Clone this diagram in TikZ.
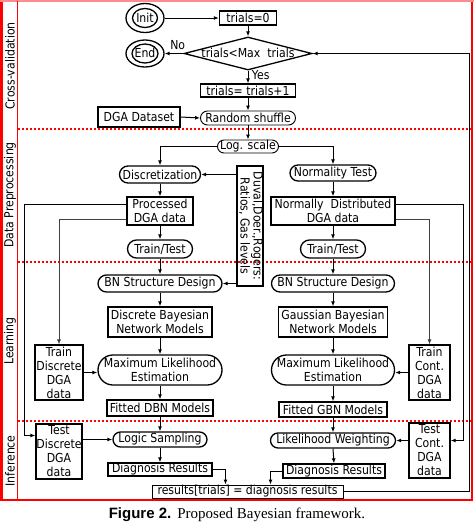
\documentclass[tikz,border=0pt]{standalone}
\usepackage{fontspec}
\newfontfamily\dv[FakeStretch=0.88]{DejaVu Sans}
\newfontfamily\capsans{Liberation Sans}
\newfontfamily\capserif{Liberation Serif}
\usetikzlibrary{arrows.meta,shapes.geometric,calc}
\newcommand{\nf}{\dv\fontsize{12.4}{14}\selectfont}
\newcommand{\lanef}{\dv\fontsize{12.4}{14}\selectfont}
\newcommand{\ctr}[1]{\smash{\makebox[0pt]{\raisebox{-0.36em}{#1}}}}
\tikzset{
  box/.style={draw, line width=1.3pt, inner sep=0pt, align=center, font=\nf},
  pill/.style={box, rounded corners=#1},
  arr/.style={-{Latex[length=5pt,width=4pt]}, line width=1pt},
  thinarr/.style={-{Latex[length=5pt,width=4pt]}, line width=0.6pt, black!75},
  lane/.style={rotate=90, font=\lanef},
  ring/.style={ellipse, draw, line width=1.3pt, inner sep=0pt, font=\nf},
  sepline/.style={red, line width=1.4pt, dash pattern=on 2pt off 2pt},
}
\begin{document}
\begin{tikzpicture}[x=1pt,y=-1pt]
\useasboundingbox (0,0) rectangle (474,523);
% frame
\draw[red, line width=2.5pt] (1.25,1) -- (1.25,500) -- (472,500) -- (472,1);
\draw[red!45, line width=2pt] (0,1) -- (474,1);
\draw[red, line width=0.9pt] (17.5,1) -- (17.5,500);
\draw[sepline] (17.5,129) -- (472,129);
\draw[sepline] (17.5,262) -- (472,262);
\draw[sepline] (17.5,421) -- (472,421);
% lanes
\node[lane] (l1) at (10,66) {Cross-validation};
\node[lane] (l2) at (10,195) {Data Preprocessing};
\node[lane] (l3) at (10,341) {Learning};
\node[lane] (l4) at (10,461) {Inference};
% cross-validation
\node[ring, minimum width=38pt, minimum height=29pt] (initO) at (145,18) {};
\node[ring, minimum width=25pt, minimum height=19pt] (init) at (145,18) {\ctr{Init}};
\node[ring, minimum width=38pt, minimum height=27pt] (endO) at (145,53.5) {};
\node[ring, minimum width=26pt, minimum height=19pt] (endI) at (145,53.5) {\ctr{End}};
\node[box, minimum width=57pt, minimum height=14pt] (t0) at (248,18) {trials=0};
\node[diamond, draw, line width=1.3pt, inner sep=0pt, minimum width=128pt, minimum height=33pt, font=\nf] (dec) at (248,53.5) {\ctr{trials<Max\ \ trials}};
\node[box, minimum width=95pt, minimum height=13pt] (inc) at (248,90.5) {trials= trials+1};
\node[box, minimum width=82pt, minimum height=20pt] (ds) at (139,117) {DGA Dataset};
\node[pill=7pt, line width=0.9pt, minimum width=95pt, minimum height=14pt] (rs) at (248,118) {Random shuffle};
% preprocessing
\node[pill=6.5pt, line width=0.9pt, minimum width=61pt, minimum height=13pt] (log) at (248,146.5) {Log. scale};
\node[pill=8.5pt, minimum width=81pt, minimum height=17pt] (disc) at (160,174.5) {Discretization};
\node[pill=8pt, minimum width=86pt, minimum height=16pt] (norm) at (333,173) {Normality Test};
\node[box, minimum width=26pt, minimum height=120pt] (duval) at (250,226)
  {\rotatebox{-90}{\fontsize{12.4}{12}\selectfont\begin{tabular}{@{}c@{}}Duval,Doer.,Rogers:\\Ratios, Gas levels\end{tabular}}};
\node[box, minimum width=66pt, minimum height=28pt] (proc) at (160,211) {Processed\\DGA data};
\node[box, minimum width=124pt, minimum height=28pt] (nd) at (333,211) {Normally\ \ Distributed\\DGA data};
\node[pill=9pt, minimum width=65pt, minimum height=18pt] (tt1) at (160,249) {Train/Test};
\node[pill=9pt, minimum width=65pt, minimum height=18pt] (tt2) at (333,249) {Train/Test};
% learning
\node[pill=8.5pt, minimum width=124pt, minimum height=17pt] (bn1) at (160,283.5) {BN Structure Design};
\node[pill=8.5pt, minimum width=123pt, minimum height=17pt] (bn2) at (333,283.5) {BN Structure Design};
\node[box, minimum width=104pt, minimum height=30pt] (dbn) at (160,322) {Discrete Bayesian\\Network Models};
\node[box, minimum width=109pt, minimum height=30pt] (gbn) at (333,322) {Gaussian Bayesian\\Network Models};
\node[pill=15pt, minimum width=124pt, minimum height=30pt] (mle1) at (160,370) {Maximum Likelihood\\Estimation};
\node[pill=15pt, minimum width=123pt, minimum height=30pt] (mle2) at (333,370) {Maximum Likelihood\\Estimation};
\node[box, minimum width=48pt, minimum height=55pt] (trd) at (59,372.5) {Train\\Discrete\\DGA\\data};
\node[box, minimum width=41pt, minimum height=55pt] (trc) at (429.5,372.5) {Train\\Cont.\\DGA\\data};
\node[box, minimum width=106pt, minimum height=16pt] (fdbn) at (160,408) {Fitted DBN Models};
\node[box, minimum width=108pt, minimum height=15pt] (fgbn) at (333,409.5) {Fitted GBN Models};
% inference
\node[box, minimum width=46pt, minimum height=55pt] (ted) at (59,451.5) {Test\\Discrete\\DGA\\data};
\node[box, minimum width=41pt, minimum height=55pt] (tec) at (429.5,450.5) {Test\\Cont.\\DGA\\data};
\node[pill=7.5pt, minimum width=94pt, minimum height=15pt] (ls) at (160,439.5) {Logic Sampling};
\node[pill=7.5pt, minimum width=125pt, minimum height=15pt] (lw) at (333,440.5) {Likelihood Weighting};
\node[box, minimum width=104pt, minimum height=13pt] (dr1) at (160,469.5) {Diagnosis Results};
\node[box, minimum width=102pt, minimum height=14pt] (dr2) at (334,471) {Diagnosis Results};
\node[box, line width=0.9pt, minimum width=191pt, minimum height=13pt] (res) at (247.5,491.5) {results[trials] = diagnosis results};
% caption
\node[font=\fontsize{15}{18}\selectfont] (cap) at (237,515) {{\capsans\bfseries Figure 2.} {\capserif Proposed Bayesian framework.}};
% helper coordinates
\coordinate (lx) at (24,0);
\coordinate (rx) at (463,0);
\coordinate (ox) at (469,0);
% connectors
\draw[arr] (initO.east) -- (t0.west);
\draw[arr] (t0.south) -- (dec.north);
\draw[arr] (dec.west) -- node[above, pos=0.3, font=\nf] {No} (endO.east);
\draw[arr] (dec.south) -- node[right, pos=0.35, font=\nf] {Yes} (inc.north);
\draw[arr] (inc.south) -- (rs.north);
\draw[arr] (ds.east) -- (rs.west);
\draw[arr] (rs.south) -- (log.north);
\draw[arr] (log.west) -| (disc.north);
\draw[arr] (log.east) -| (norm.north);
\draw[arr] (duval.west |- disc.east) -- (disc.east);
\draw[arr] (duval.west |- bn1.east) -- (bn1.east);
\draw[arr] (disc.south) -- (proc.north);
\draw[arr] (norm.south) -- (nd.north);
\draw[arr] (proc.south) -- (tt1.north);
\draw[arr] (nd.south) -- (tt2.north);
\draw[arr] (tt1.south) -- (bn1.north);
\draw[arr] (tt2.south) -- (bn2.north);
\draw[arr] (bn1.south) -- (dbn.north);
\draw[arr] (bn2.south) -- (gbn.north);
\draw[arr] (dbn.south) -- (mle1.north);
\draw[arr] (gbn.south) -- (mle2.north);
\draw[arr] (mle1.south) -- (fdbn.north);
\draw[arr] (mle2.south) -- (fgbn.north);
\draw[arr] (fdbn.south) -- (ls.north);
\draw[arr] (fgbn.south) -- (lw.north);
\draw[arr] (ls.south) -- (dr1.north);
\draw[arr] (lw.south) -- (dr2.north);
\draw[arr] (trd.east) -- (mle1.west |- trd.east);
\draw[arr] (trc.west) -- (mle2.east |- trc.west);
\draw[arr] (ted.east |- ls.west) -- (ls.west);
\draw[arr] (tec.west |- lw.east) -- (lw.east);
\draw[arr] ([yshift=7pt]proc.west) -- ([yshift=7pt]proc.west -| lx) -- ([yshift=16pt]ted.west -| lx) -- ([yshift=16pt]ted.west);
\draw[thinarr] ([yshift=-8pt]proc.west) -| (trd.north);
\draw[arr] ([yshift=7pt]nd.east) -- ([yshift=7pt]nd.east -| rx) -- (rx |- lw.east) -- (tec.east |- lw.east);
\draw[thinarr] ([yshift=-8pt]nd.east) -| (trc.north);
\draw[arr] (dr1.east) -| ([xshift=-22pt]res.north);
\draw[arr] (dr2.west) -| ([xshift=23pt]res.north);
\draw[arr] (res.east) -- (res.east -| ox) -- (ox |- dec.east) -- (dec.east);
\end{tikzpicture}
\end{document}
